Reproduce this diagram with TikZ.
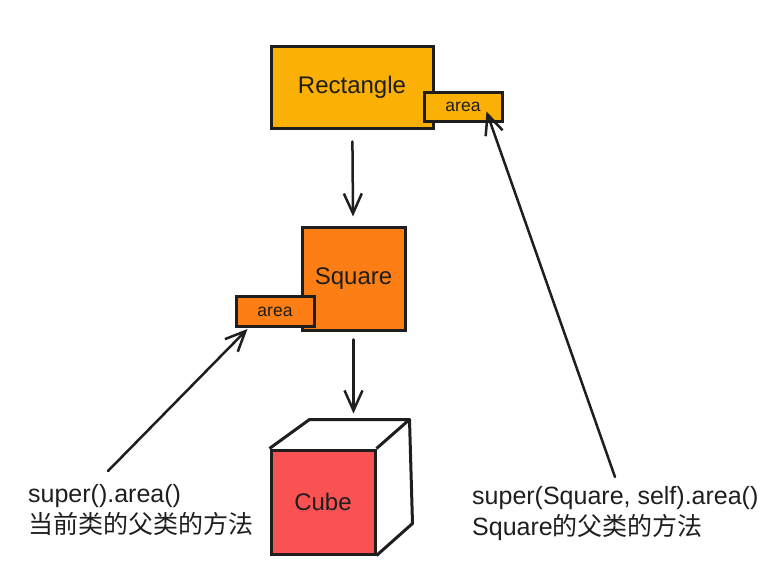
\documentclass[tikz,border=0pt]{standalone}
\usepackage{fontspec}
\setmainfont{Liberation Sans}
\newfontfamily\cjk{Noto Sans CJK SC}
\usetikzlibrary{arrows.meta}
\definecolor{ink}{HTML}{1E1E1E}
\definecolor{amber}{HTML}{FAB005}
\definecolor{tangerine}{HTML}{FD7E14}
\definecolor{coral}{HTML}{FA5252}
\tikzset{
  cls/.style={draw=ink,line width=3pt,text=ink,font=\fontsize{24}{28}\selectfont,inner sep=0pt},
  meth/.style={draw=ink,line width=3pt,text=ink,font=\fontsize{17.5}{20}\selectfont,minimum width=78pt,minimum height=30pt,inner sep=0pt},
  note/.style={text=ink,font=\fontsize{25}{31}\selectfont,align=left,inner sep=0pt,anchor=north west},
  arr/.style={draw=ink,line width=2.5pt,line cap=round,-{Straight Barb[length=20pt,width=18pt,line width=2.5pt]}},
}
\begin{document}
\begin{tikzpicture}[x=1pt,y=-1pt]
\useasboundingbox (0,0) rectangle (780,570);
\node[cls,fill=amber,minimum width=162pt,minimum height=82pt] (rect) at (352,87) {Rectangle};
\node[meth,fill=amber,minimum height=29pt] (rectarea) at (463,106.5) {area};
\node[cls,fill=tangerine,minimum width=103pt,minimum height=103pt] (square) at (353.5,278.5) {Square};
\node[meth,fill=tangerine] (squarearea) at (275,311.5) {area};
\node[cls,fill=coral,minimum width=104pt,minimum height=104pt] (cube) at (323,502) {Cube};
\draw[ink,line width=3pt,line join=round] (cube.north west) -- ++(40,-29) -- ++(100,0) coordinate (cubeback) -- (cube.north east) (cubeback) -- ++(3,104) -- (cube.south east);
\draw[arr,shorten <=12pt,shorten >=9pt] (rect) -- (square);
\draw[arr,shorten <=8pt,shorten >=6pt] (square) -- (square |- cubeback);
\node[note] (supernote) at (28,484) {super().area()\\{\cjk 当前类的父类的方法}};
\node[note] (selfnote) at (472,486) {super(Square, self).area()\\Square{\cjk 的父类的方法}};
\draw[arr] ([xshift=80pt,yshift=13pt]supernote.north west) -- ([xshift=13pt,yshift=-1pt]squarearea.south west);
\draw[arr] ([xshift=143pt,yshift=9pt]selfnote.north west) -- ([xshift=64pt,yshift=11pt]rectarea.south west);
\end{tikzpicture}
\end{document}
